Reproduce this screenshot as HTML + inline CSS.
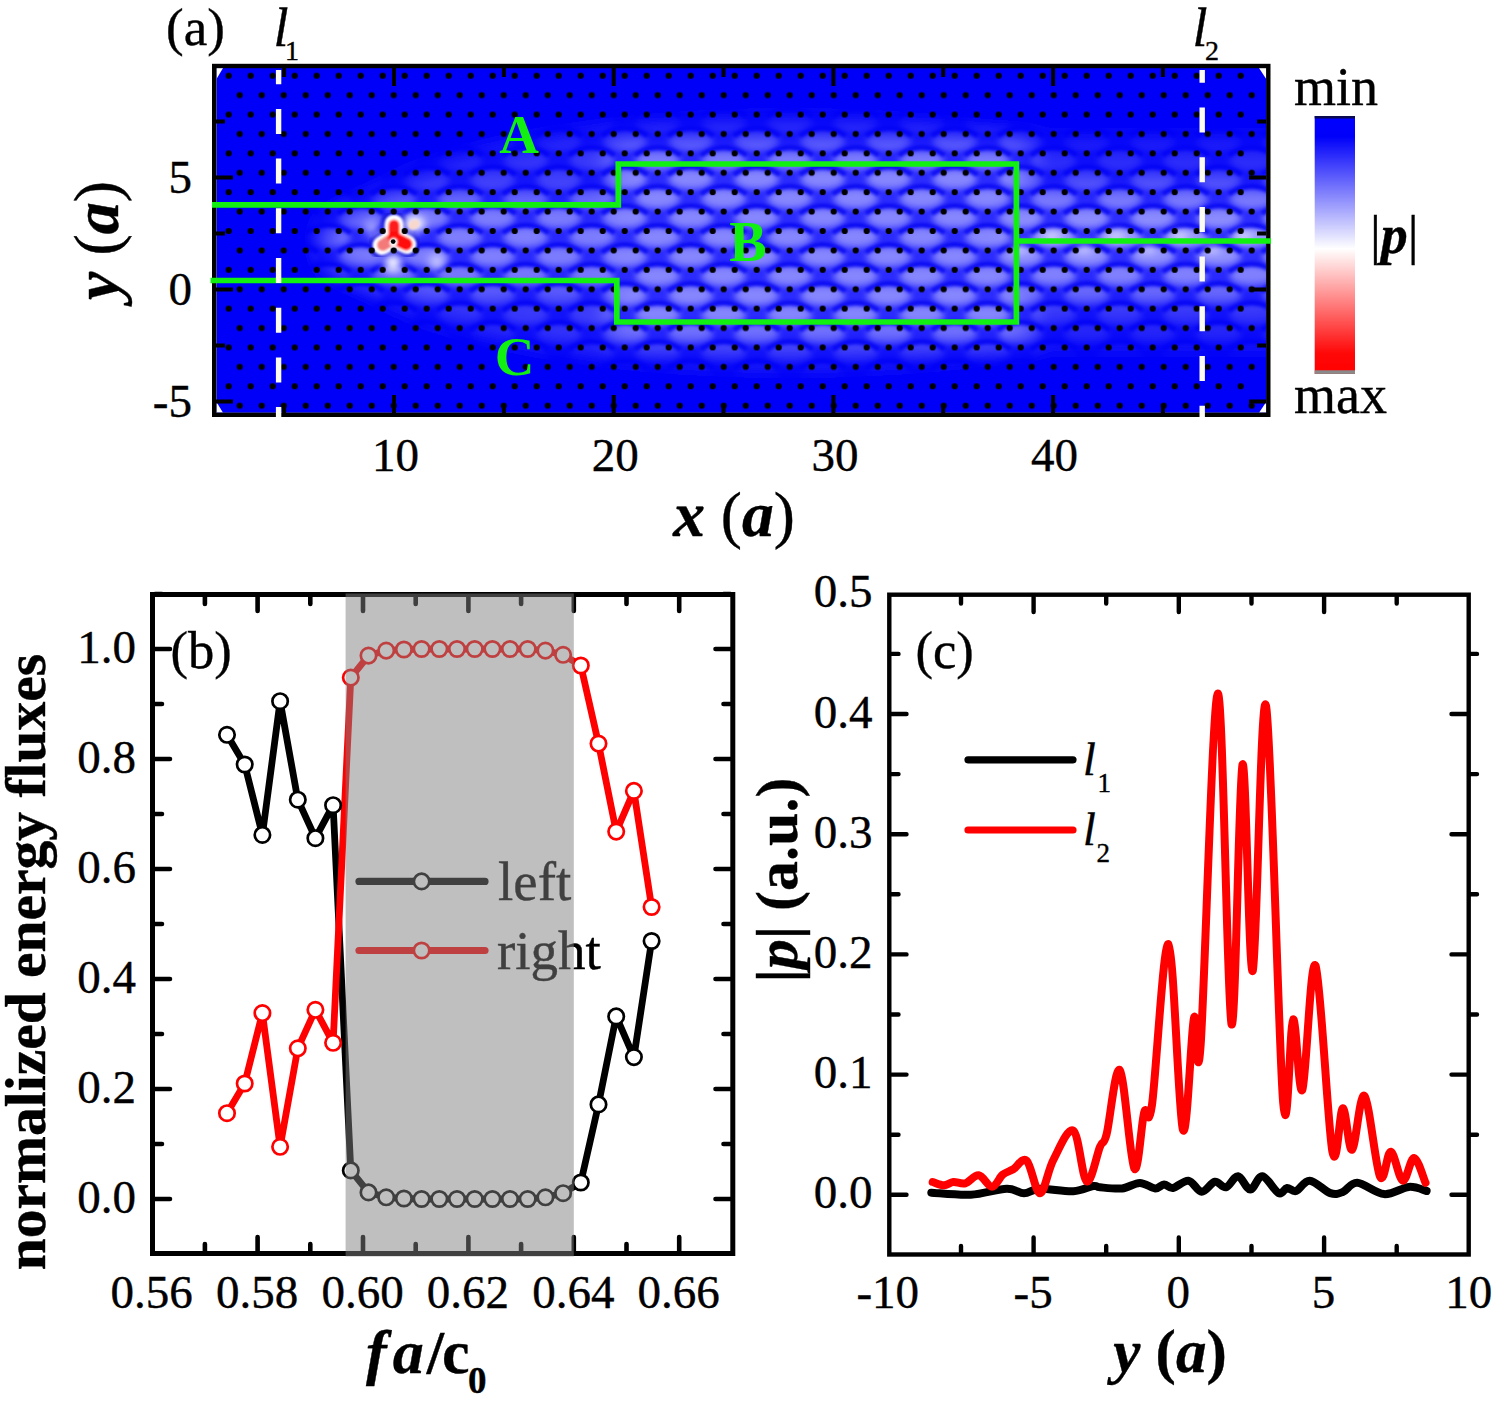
<!DOCTYPE html><html><head><meta charset="utf-8"><style>html,body{margin:0;padding:0;background:#fff;overflow:hidden}svg{display:block}text{font-family:"Liberation Serif",serif}</style></head><body><svg width="1500" height="1402" viewBox="0 0 1500 1402"><defs><clipPath id="fieldclip"><rect x="216.5" y="68.0" width="1049.7" height="344.8"/></clipPath><pattern id="dots" patternUnits="userSpaceOnUse" x="228.7" y="75.7" width="22" height="38.82"><circle cx="0.00" cy="0.00" r="3.1" fill="#000"/><circle cx="22.00" cy="0.00" r="3.1" fill="#000"/><circle cx="11.00" cy="19.41" r="3.1" fill="#000"/><circle cx="0.00" cy="38.82" r="3.1" fill="#000"/><circle cx="22.00" cy="38.82" r="3.1" fill="#000"/></pattern><pattern id="arcs" patternUnits="userSpaceOnUse" x="228.7" y="75.7" width="66" height="38.82"><rect x="0" y="0" width="66" height="38.82" fill="#3434ff"/><ellipse cx="0.0" cy="-13.4" rx="21" ry="9" fill="#a4a4ff"/><ellipse cx="66.0" cy="-13.4" rx="21" ry="9" fill="#a4a4ff"/><ellipse cx="-33.0" cy="6.0" rx="21" ry="9" fill="#a4a4ff"/><ellipse cx="33.0" cy="6.0" rx="21" ry="9" fill="#a4a4ff"/><ellipse cx="99.0" cy="6.0" rx="21" ry="9" fill="#a4a4ff"/><ellipse cx="0.0" cy="25.4" rx="21" ry="9" fill="#a4a4ff"/><ellipse cx="66.0" cy="25.4" rx="21" ry="9" fill="#a4a4ff"/><ellipse cx="-33.0" cy="44.8" rx="21" ry="9" fill="#a4a4ff"/><ellipse cx="33.0" cy="44.8" rx="21" ry="9" fill="#a4a4ff"/><ellipse cx="99.0" cy="44.8" rx="21" ry="9" fill="#a4a4ff"/></pattern><pattern id="arcs2" patternUnits="userSpaceOnUse" x="228.7" y="75.7" width="66" height="38.82"><path d="M-23.0,-17.4Q0.0,-33.4 23.0,-17.4M43.0,-17.4Q66.0,-33.4 89.0,-17.4M-56.0,2.0Q-33.0,-14.0 -10.0,2.0M10.0,2.0Q33.0,-14.0 56.0,2.0M76.0,2.0Q99.0,-14.0 122.0,2.0M-23.0,21.4Q0.0,5.4 23.0,21.4M43.0,21.4Q66.0,5.4 89.0,21.4M-56.0,40.8Q-33.0,24.8 -10.0,40.8M10.0,40.8Q33.0,24.8 56.0,40.8M76.0,40.8Q99.0,24.8 122.0,40.8" fill="none" stroke="#0000f0" stroke-width="5"/></pattern><filter id="blurA" x="0" y="0" width="1" height="1"><feGaussianBlur stdDeviation="1.6"/></filter><filter id="blurP" x="0" y="0" width="1" height="1"><feGaussianBlur stdDeviation="3"/></filter><filter id="blurM" x="-50%" y="-50%" width="200%" height="200%"><feGaussianBlur stdDeviation="12"/></filter><filter id="blur6" x="-50%" y="-50%" width="200%" height="200%"><feGaussianBlur stdDeviation="5"/></filter><filter id="blur1" x="-50%" y="-50%" width="200%" height="200%"><feGaussianBlur stdDeviation="1.3"/></filter><mask id="guidemask" maskUnits="userSpaceOnUse" x="0" y="0" width="1500" height="500"><g filter="url(#blurM)"><rect x="200" y="50" width="1090" height="380" fill="#000"/><ellipse cx="790" cy="243" rx="440" ry="112" fill="#5a5a5a"/><rect x="1000" y="150" width="290" height="185" fill="#4a4a4a"/><ellipse cx="480" cy="243" rx="150" ry="44" fill="#c4c4c4"/><rect x="540" y="198" width="100" height="90" fill="#c0c0c0"/><rect x="612" y="150" width="415" height="185" fill="#d0d0d0"/><rect x="1005" y="190" width="290" height="104" fill="#c8c8c8"/><rect x="1005" y="222" width="290" height="36" fill="#f0f0f0"/></g></mask><linearGradient id="cbar" x1="0" y1="0" x2="0" y2="1"><stop offset="0" stop-color="#0000ff"/><stop offset="0.08" stop-color="#0000fa"/><stop offset="0.515" stop-color="#ffffff"/><stop offset="0.92" stop-color="#ff0808"/><stop offset="1" stop-color="#ff0000"/></linearGradient></defs><rect x="0" y="0" width="1500" height="1402" fill="#fff"/><g clip-path="url(#fieldclip)"><rect x="210" y="60" width="1070" height="370" fill="#0000f8"/><g mask="url(#guidemask)"><g filter="url(#blurP)"><rect x="210" y="60" width="1070" height="370" fill="url(#arcs)"/></g><g filter="url(#blurA)"><rect x="210" y="60" width="1070" height="370" fill="url(#arcs2)" opacity="0.85"/></g></g><g filter="url(#blur6)" opacity="0.75"><ellipse cx="1052.0" cy="236" rx="9" ry="4" fill="#fff"/><ellipse cx="1020.0" cy="248" rx="9" ry="4" fill="#fff"/><ellipse cx="1116.0" cy="236" rx="9" ry="4" fill="#fff"/><ellipse cx="1084.0" cy="248" rx="9" ry="4" fill="#fff"/><ellipse cx="1180.0" cy="236" rx="9" ry="4" fill="#fff"/><ellipse cx="1148.0" cy="248" rx="9" ry="4" fill="#fff"/><ellipse cx="1244.0" cy="236" rx="9" ry="4" fill="#fff"/><ellipse cx="1212.0" cy="248" rx="9" ry="4" fill="#fff"/></g><g filter="url(#blur1)"><path d="M394,238L394,224M394,238L382,245.5M394,238L407,244.5" stroke="#1010d8" stroke-width="27" stroke-linecap="round" fill="none" opacity="0.75"/></g><g filter="url(#blur6)"><circle cx="393" cy="263" r="9" fill="#fff"/><circle cx="437" cy="262" r="8" fill="#c8c8ff"/><ellipse cx="414" cy="224" rx="11" ry="8" fill="#fff"/><circle cx="372" cy="228" r="7" fill="#b0b0ff"/></g><g filter="url(#blur1)"><path d="M394,238L394,224M394,238L382,245.5M394,238L407,244.5" stroke="#fff" stroke-width="19" stroke-linecap="round" fill="none"/><path d="M394,238L394,225" stroke="#ff1a1a" stroke-width="11" stroke-linecap="round" fill="none"/><path d="M394,238L383,245" stroke="#f47a7a" stroke-width="12" stroke-linecap="round" fill="none"/><path d="M394,238L406,244" stroke="#ff0c0c" stroke-width="13" stroke-linecap="round" fill="none"/><ellipse cx="414" cy="224.5" rx="6" ry="4.5" fill="#f8d8cc" transform="rotate(-35 414 224.5)"/></g><g filter="url(#blur1)"><circle cx="393.5" cy="242" r="4.5" fill="#fff"/></g><circle cx="393.2" cy="241.6" r="2.4" fill="#000"/><rect x="222" y="60" width="1035" height="370" fill="url(#dots)"/><path d="M216.5,68 L223,68 L216.5,79 Z" fill="#fff"/><path d="M1266.2,68 L1259,68 L1266.2,79 Z" fill="#fff"/><path d="M216.5,412.8 L223,412.8 L216.5,402 Z" fill="#fff"/><path d="M1266.2,412.8 L1259,412.8 L1266.2,402 Z" fill="#fff"/></g><text x="519" y="152.5" font-family="Liberation Serif" font-size="55" font-weight="bold" fill="#12f012" text-anchor="middle">A</text><text x="748" y="261" font-family="Liberation Serif" font-size="56" font-weight="bold" fill="#12f012" text-anchor="middle">B</text><text x="514.5" y="374.5" font-family="Liberation Serif" font-size="55" font-weight="bold" fill="#12f012" text-anchor="middle">C</text><rect x="214.2" y="66" width="1054.1" height="348.8" fill="none" stroke="#000" stroke-width="4.4"/><path d="M394.0,68v18M394.0,413v-18M613.7,68v18M613.7,413v-18M833.4,68v18M833.4,413v-18M1053.1,68v18M1053.1,413v-18M284.1,68v9M284.1,413v-9M503.9,68v9M503.9,413v-9M723.5,68v9M723.5,413v-9M943.2,68v9M943.2,413v-9M1162.9,68v9M1162.9,413v-9M216,177.6h17M1266,177.6h-17M216,289.6h17M1266,289.6h-17M216,401.6h17M1266,401.6h-17M216,121.6h9M1266,121.6h-9M216,233.6h9M1266,233.6h-9M216,345.6h9M1266,345.6h-9" stroke="#000" stroke-width="4" fill="none"/><polyline points="212,204.8 618.3,204.8 618.3,164 1016.4,164 1016.4,322 616.8,322 616.8,280.5 210.5,280.5" fill="none" stroke="#12f012" stroke-width="5.7"/><polyline points="1016.4,241 1271,241" fill="none" stroke="#12f012" stroke-width="5.7"/><line x1="278.6" y1="70" x2="278.6" y2="417" stroke="#fbfbf2" stroke-width="5.4" stroke-dasharray="25 24.7" stroke-dashoffset="10.8"/><line x1="1202.2" y1="70" x2="1202.2" y2="417" stroke="#fbfbf2" stroke-width="5.4" stroke-dasharray="25 24.7" stroke-dashoffset="12.2"/><text x="395.5" y="470.5" font-family="Liberation Serif" stroke="#000" stroke-width="0.4" font-size="47" text-anchor="middle">10</text><text x="615.2" y="470.5" font-family="Liberation Serif" stroke="#000" stroke-width="0.4" font-size="47" text-anchor="middle">20</text><text x="834.9" y="470.5" font-family="Liberation Serif" stroke="#000" stroke-width="0.4" font-size="47" text-anchor="middle">30</text><text x="1054.6" y="470.5" font-family="Liberation Serif" stroke="#000" stroke-width="0.4" font-size="47" text-anchor="middle">40</text><text x="192" y="193.1" font-family="Liberation Serif" stroke="#000" stroke-width="0.4" font-size="47" text-anchor="end">5</text><text x="192" y="305.1" font-family="Liberation Serif" stroke="#000" stroke-width="0.4" font-size="47" text-anchor="end">0</text><text x="192" y="417.1" font-family="Liberation Serif" stroke="#000" stroke-width="0.4" font-size="47" text-anchor="end">-5</text><text x="166" y="45" font-family="Liberation Serif" stroke="#000" stroke-width="0.4" font-size="53">(a)</text><text x="273.5" y="46" font-family="Liberation Serif" stroke="#000" stroke-width="0.4" font-size="54" font-style="italic">l</text><text x="285" y="59.5" font-family="Liberation Serif" stroke="#000" stroke-width="0.4" font-size="28">1</text><text x="1192.5" y="46" font-family="Liberation Serif" stroke="#000" stroke-width="0.4" font-size="54" font-style="italic">l</text><text x="1205" y="59.5" font-family="Liberation Serif" stroke="#000" stroke-width="0.4" font-size="28">2</text><text x="734" y="536" font-family="Liberation Serif" stroke="#000" stroke-width="0.4" font-size="63.5" text-anchor="middle"><tspan font-weight="bold" font-style="italic">x</tspan> (<tspan font-weight="bold" font-style="italic">a</tspan>)</text><text transform="translate(117.5,240.5) rotate(-90)" font-family="Liberation Serif" stroke="#000" stroke-width="0.4" font-size="64" text-anchor="middle"><tspan font-weight="bold" font-style="italic">y</tspan> (<tspan font-weight="bold" font-style="italic">a</tspan>)</text><rect x="1314.7" y="116" width="40.3" height="257.9" fill="url(#cbar)"/><rect x="1314.7" y="116" width="40.3" height="2.5" fill="#0a0a50"/><rect x="1314.7" y="370.3" width="40.3" height="3.6" fill="#8a8a8a"/><text x="1294" y="104.7" font-family="Liberation Serif" stroke="#000" stroke-width="0.4" font-size="54">min</text><text x="1294" y="413" font-family="Liberation Serif" stroke="#000" stroke-width="0.4" font-size="54">max</text><text x="1370" y="253" font-family="Liberation Serif" stroke="#000" stroke-width="0.4" font-size="54">|<tspan font-weight="bold" font-style="italic">p</tspan>|</text><polyline points="227.0,734.8 244.7,764.5 262.4,834.9 280.1,701.2 297.8,799.7 315.4,838.2 333.1,805.2 350.8,1170.4 368.5,1192.4 386.2,1197.3 403.9,1198.5 421.6,1199.0 439.3,1199.0 457.0,1199.0 474.7,1199.0 492.4,1199.0 510.0,1199.0 527.7,1199.0 545.4,1197.3 563.1,1193.2 580.8,1182.5 598.5,1104.4 616.2,1016.4 633.9,1057.1 651.6,941.0" fill="none" stroke="#000" stroke-width="6.8" stroke-linejoin="round"/><polyline points="227.0,1113.2 244.7,1083.5 262.4,1013.1 280.1,1146.8 297.8,1048.3 315.4,1009.8 333.1,1042.8 350.8,677.6 368.5,655.6 386.2,650.6 403.9,649.5 421.6,649.0 439.3,649.0 457.0,649.0 474.7,649.0 492.4,649.0 510.0,649.0 527.7,649.0 545.4,650.6 563.1,654.8 580.8,665.5 598.5,743.6 616.2,831.6 633.9,790.9 651.6,907.0" fill="none" stroke="#ff0000" stroke-width="6.8" stroke-linejoin="round"/><circle cx="227.0" cy="734.8" r="7.7" fill="#fff" stroke="#000" stroke-width="2.7"/><circle cx="244.7" cy="764.5" r="7.7" fill="#fff" stroke="#000" stroke-width="2.7"/><circle cx="262.4" cy="834.9" r="7.7" fill="#fff" stroke="#000" stroke-width="2.7"/><circle cx="280.1" cy="701.2" r="7.7" fill="#fff" stroke="#000" stroke-width="2.7"/><circle cx="297.8" cy="799.7" r="7.7" fill="#fff" stroke="#000" stroke-width="2.7"/><circle cx="315.4" cy="838.2" r="7.7" fill="#fff" stroke="#000" stroke-width="2.7"/><circle cx="333.1" cy="805.2" r="7.7" fill="#fff" stroke="#000" stroke-width="2.7"/><circle cx="350.8" cy="1170.4" r="7.7" fill="#fff" stroke="#000" stroke-width="2.7"/><circle cx="368.5" cy="1192.4" r="7.7" fill="#fff" stroke="#000" stroke-width="2.7"/><circle cx="386.2" cy="1197.3" r="7.7" fill="#fff" stroke="#000" stroke-width="2.7"/><circle cx="403.9" cy="1198.5" r="7.7" fill="#fff" stroke="#000" stroke-width="2.7"/><circle cx="421.6" cy="1199.0" r="7.7" fill="#fff" stroke="#000" stroke-width="2.7"/><circle cx="439.3" cy="1199.0" r="7.7" fill="#fff" stroke="#000" stroke-width="2.7"/><circle cx="457.0" cy="1199.0" r="7.7" fill="#fff" stroke="#000" stroke-width="2.7"/><circle cx="474.7" cy="1199.0" r="7.7" fill="#fff" stroke="#000" stroke-width="2.7"/><circle cx="492.4" cy="1199.0" r="7.7" fill="#fff" stroke="#000" stroke-width="2.7"/><circle cx="510.0" cy="1199.0" r="7.7" fill="#fff" stroke="#000" stroke-width="2.7"/><circle cx="527.7" cy="1199.0" r="7.7" fill="#fff" stroke="#000" stroke-width="2.7"/><circle cx="545.4" cy="1197.3" r="7.7" fill="#fff" stroke="#000" stroke-width="2.7"/><circle cx="563.1" cy="1193.2" r="7.7" fill="#fff" stroke="#000" stroke-width="2.7"/><circle cx="580.8" cy="1182.5" r="7.7" fill="#fff" stroke="#000" stroke-width="2.7"/><circle cx="598.5" cy="1104.4" r="7.7" fill="#fff" stroke="#000" stroke-width="2.7"/><circle cx="616.2" cy="1016.4" r="7.7" fill="#fff" stroke="#000" stroke-width="2.7"/><circle cx="633.9" cy="1057.1" r="7.7" fill="#fff" stroke="#000" stroke-width="2.7"/><circle cx="651.6" cy="941.0" r="7.7" fill="#fff" stroke="#000" stroke-width="2.7"/><circle cx="227.0" cy="1113.2" r="7.7" fill="#fff" stroke="#ff0000" stroke-width="2.7"/><circle cx="244.7" cy="1083.5" r="7.7" fill="#fff" stroke="#ff0000" stroke-width="2.7"/><circle cx="262.4" cy="1013.1" r="7.7" fill="#fff" stroke="#ff0000" stroke-width="2.7"/><circle cx="280.1" cy="1146.8" r="7.7" fill="#fff" stroke="#ff0000" stroke-width="2.7"/><circle cx="297.8" cy="1048.3" r="7.7" fill="#fff" stroke="#ff0000" stroke-width="2.7"/><circle cx="315.4" cy="1009.8" r="7.7" fill="#fff" stroke="#ff0000" stroke-width="2.7"/><circle cx="333.1" cy="1042.8" r="7.7" fill="#fff" stroke="#ff0000" stroke-width="2.7"/><circle cx="350.8" cy="677.6" r="7.7" fill="#fff" stroke="#ff0000" stroke-width="2.7"/><circle cx="368.5" cy="655.6" r="7.7" fill="#fff" stroke="#ff0000" stroke-width="2.7"/><circle cx="386.2" cy="650.6" r="7.7" fill="#fff" stroke="#ff0000" stroke-width="2.7"/><circle cx="403.9" cy="649.5" r="7.7" fill="#fff" stroke="#ff0000" stroke-width="2.7"/><circle cx="421.6" cy="649.0" r="7.7" fill="#fff" stroke="#ff0000" stroke-width="2.7"/><circle cx="439.3" cy="649.0" r="7.7" fill="#fff" stroke="#ff0000" stroke-width="2.7"/><circle cx="457.0" cy="649.0" r="7.7" fill="#fff" stroke="#ff0000" stroke-width="2.7"/><circle cx="474.7" cy="649.0" r="7.7" fill="#fff" stroke="#ff0000" stroke-width="2.7"/><circle cx="492.4" cy="649.0" r="7.7" fill="#fff" stroke="#ff0000" stroke-width="2.7"/><circle cx="510.0" cy="649.0" r="7.7" fill="#fff" stroke="#ff0000" stroke-width="2.7"/><circle cx="527.7" cy="649.0" r="7.7" fill="#fff" stroke="#ff0000" stroke-width="2.7"/><circle cx="545.4" cy="650.6" r="7.7" fill="#fff" stroke="#ff0000" stroke-width="2.7"/><circle cx="563.1" cy="654.8" r="7.7" fill="#fff" stroke="#ff0000" stroke-width="2.7"/><circle cx="580.8" cy="665.5" r="7.7" fill="#fff" stroke="#ff0000" stroke-width="2.7"/><circle cx="598.5" cy="743.6" r="7.7" fill="#fff" stroke="#ff0000" stroke-width="2.7"/><circle cx="616.2" cy="831.6" r="7.7" fill="#fff" stroke="#ff0000" stroke-width="2.7"/><circle cx="633.9" cy="790.9" r="7.7" fill="#fff" stroke="#ff0000" stroke-width="2.7"/><circle cx="651.6" cy="907.0" r="7.7" fill="#fff" stroke="#ff0000" stroke-width="2.7"/><line x1="359" y1="881.4" x2="485" y2="881.4" stroke="#000" stroke-width="7.2" stroke-linecap="round"/><circle cx="421.6" cy="881.4" r="7.7" fill="#fff" stroke="#000" stroke-width="2.7"/><line x1="359" y1="950.5" x2="485" y2="950.5" stroke="#ff0000" stroke-width="7.2" stroke-linecap="round"/><circle cx="421.6" cy="950.5" r="7.7" fill="#fff" stroke="#ff0000" stroke-width="2.7"/><text x="498" y="899.7" font-family="Liberation Serif" stroke="#000" stroke-width="0.4" font-size="55">left</text><text x="497" y="968.8" font-family="Liberation Serif" stroke="#000" stroke-width="0.4" font-size="55">right</text><rect x="152.5" y="594.5" width="580.3" height="659" fill="none" stroke="#000" stroke-width="5"/><path d="M257.6,597v14M257.6,1251v-14M363.0,597v14M363.0,1251v-14M468.4,597v14M468.4,1251v-14M573.8,597v14M573.8,1251v-14M679.2,597v14M679.2,1251v-14M204.9,597v7M204.9,1251v-7M310.3,597v7M310.3,1251v-7M415.7,597v7M415.7,1251v-7M521.1,597v7M521.1,1251v-7M626.5,597v7M626.5,1251v-7M155,1199.0h15M730.5,1199.0h-15M155,1089.0h15M730.5,1089.0h-15M155,979.0h15M730.5,979.0h-15M155,869.0h15M730.5,869.0h-15M155,759.0h15M730.5,759.0h-15M155,649.0h15M730.5,649.0h-15M155,1144.0h7M730.5,1144.0h-7M155,1034.0h7M730.5,1034.0h-7M155,924.0h7M730.5,924.0h-7M155,814.0h7M730.5,814.0h-7M155,704.0h7M730.5,704.0h-7M155,594.0h7M730.5,594.0h-7" stroke="#000" stroke-width="4.6" stroke-linecap="round" fill="none"/><rect x="345.6" y="593.5" width="228.2" height="663" fill="#808080" fill-opacity="0.5"/><text x="170.5" y="667.5" font-family="Liberation Serif" stroke="#000" stroke-width="0.4" font-size="52.5">(b)</text><text x="151.7" y="1307.5" font-family="Liberation Serif" stroke="#000" stroke-width="0.4" font-size="47" text-anchor="middle">0.56</text><text x="257.1" y="1307.5" font-family="Liberation Serif" stroke="#000" stroke-width="0.4" font-size="47" text-anchor="middle">0.58</text><text x="362.5" y="1307.5" font-family="Liberation Serif" stroke="#000" stroke-width="0.4" font-size="47" text-anchor="middle">0.60</text><text x="467.9" y="1307.5" font-family="Liberation Serif" stroke="#000" stroke-width="0.4" font-size="47" text-anchor="middle">0.62</text><text x="573.3" y="1307.5" font-family="Liberation Serif" stroke="#000" stroke-width="0.4" font-size="47" text-anchor="middle">0.64</text><text x="678.7" y="1307.5" font-family="Liberation Serif" stroke="#000" stroke-width="0.4" font-size="47" text-anchor="middle">0.66</text><text x="136" y="1213.0" font-family="Liberation Serif" stroke="#000" stroke-width="0.4" font-size="47" text-anchor="end">0.0</text><text x="136" y="1103.0" font-family="Liberation Serif" stroke="#000" stroke-width="0.4" font-size="47" text-anchor="end">0.2</text><text x="136" y="993.0" font-family="Liberation Serif" stroke="#000" stroke-width="0.4" font-size="47" text-anchor="end">0.4</text><text x="136" y="883.0" font-family="Liberation Serif" stroke="#000" stroke-width="0.4" font-size="47" text-anchor="end">0.6</text><text x="136" y="773.0" font-family="Liberation Serif" stroke="#000" stroke-width="0.4" font-size="47" text-anchor="end">0.8</text><text x="136" y="663.0" font-family="Liberation Serif" stroke="#000" stroke-width="0.4" font-size="47" text-anchor="end">1.0</text><text transform="translate(45,962) rotate(-90)" font-family="Liberation Serif" stroke="#000" stroke-width="0.4" font-size="57.5" font-weight="bold" text-anchor="middle">normalized energy fluxes</text><text x="366" y="1372.5" font-family="Liberation Serif" stroke="#000" stroke-width="0.4" font-size="62" font-weight="bold"><tspan font-style="italic">f</tspan><tspan font-style="italic" dx="6">a</tspan><tspan dx="3">/</tspan><tspan dx="-2">c</tspan><tspan font-size="37" dy="20" dx="-1.5">0</tspan></text><rect x="889.3" y="594.7" width="579.4" height="659.8" fill="none" stroke="#000" stroke-width="4.4"/><path d="M1033.6,597v15M1033.6,1252.5v-15M1178.8,597v15M1178.8,1252.5v-15M1324.1,597v15M1324.1,1252.5v-15M961.0,597v6.5M961.0,1252.5v-6.5M1106.2,597v6.5M1106.2,1252.5v-6.5M1251.5,597v6.5M1251.5,1252.5v-6.5M1396.7,597v6.5M1396.7,1252.5v-6.5M891.5,1194.8h15M1466.5,1194.8h-15M891.5,1074.6h15M1466.5,1074.6h-15M891.5,954.4h15M1466.5,954.4h-15M891.5,834.2h15M1466.5,834.2h-15M891.5,714.0h15M1466.5,714.0h-15M891.5,1134.7h7M1470,1134.7h7M891.5,1014.5h7M1470,1014.5h7M891.5,894.3h7M1470,894.3h7M891.5,774.1h7M1470,774.1h7M891.5,653.9h7M1470,653.9h7" stroke="#000" stroke-width="4.4" stroke-linecap="round" fill="none"/><text x="887.8" y="1307.5" font-family="Liberation Serif" stroke="#000" stroke-width="0.4" font-size="47" text-anchor="middle">-10</text><text x="1033.1" y="1307.5" font-family="Liberation Serif" stroke="#000" stroke-width="0.4" font-size="47" text-anchor="middle">-5</text><text x="1178.3" y="1307.5" font-family="Liberation Serif" stroke="#000" stroke-width="0.4" font-size="47" text-anchor="middle">0</text><text x="1323.6" y="1307.5" font-family="Liberation Serif" stroke="#000" stroke-width="0.4" font-size="47" text-anchor="middle">5</text><text x="1468.8" y="1307.5" font-family="Liberation Serif" stroke="#000" stroke-width="0.4" font-size="47" text-anchor="middle">10</text><text x="872.5" y="1208.3" font-family="Liberation Serif" stroke="#000" stroke-width="0.4" font-size="47" text-anchor="end">0.0</text><text x="872.5" y="1088.1" font-family="Liberation Serif" stroke="#000" stroke-width="0.4" font-size="47" text-anchor="end">0.1</text><text x="872.5" y="967.9" font-family="Liberation Serif" stroke="#000" stroke-width="0.4" font-size="47" text-anchor="end">0.2</text><text x="872.5" y="847.7" font-family="Liberation Serif" stroke="#000" stroke-width="0.4" font-size="47" text-anchor="end">0.3</text><text x="872.5" y="727.5" font-family="Liberation Serif" stroke="#000" stroke-width="0.4" font-size="47" text-anchor="end">0.4</text><text x="872.5" y="607.3" font-family="Liberation Serif" stroke="#000" stroke-width="0.4" font-size="47" text-anchor="end">0.5</text><text x="915.5" y="667.5" font-family="Liberation Serif" stroke="#000" stroke-width="0.4" font-size="52.5">(c)</text><text transform="translate(797,880) rotate(-90)" font-family="Liberation Serif" stroke="#000" stroke-width="0.4" font-size="60" font-weight="bold" text-anchor="middle">|<tspan font-style="italic">p</tspan>| (a.u.)</text><text x="1170" y="1372" font-family="Liberation Serif" stroke="#000" stroke-width="0.4" font-size="61" font-weight="bold" text-anchor="middle"><tspan font-style="italic">y</tspan> (<tspan font-style="italic">a</tspan>)</text><line x1="968" y1="759.8" x2="1073" y2="759.8" stroke="#000" stroke-width="7.2" stroke-linecap="round"/><line x1="968" y1="830" x2="1073" y2="830" stroke="#ff0000" stroke-width="7.2" stroke-linecap="round"/><text x="1083" y="775" font-family="Liberation Serif" stroke="#000" stroke-width="0.4" font-size="46" font-style="italic">l</text><text x="1097.5" y="791.5" font-family="Liberation Serif" stroke="#000" stroke-width="0.4" font-size="27">1</text><text x="1083" y="845" font-family="Liberation Serif" stroke="#000" stroke-width="0.4" font-size="46" font-style="italic">l</text><text x="1096.5" y="861.5" font-family="Liberation Serif" stroke="#000" stroke-width="0.4" font-size="27">2</text><path d="M931.3,1192.7C937.9,1193.0 958.1,1195.4 970.7,1194.7C983.3,1194.0 997.8,1188.9 1006.7,1188.7C1015.6,1188.5 1018.5,1193.3 1024.0,1193.3C1029.5,1193.3 1031.8,1189.0 1040.0,1188.7C1048.2,1188.4 1064.4,1191.8 1073.3,1191.3C1082.2,1190.8 1088.8,1186.7 1093.3,1186.0C1097.8,1185.3 1095.2,1186.9 1100.0,1187.3C1104.8,1187.7 1115.5,1189.1 1122.1,1188.4C1128.7,1187.7 1134.3,1182.9 1139.8,1182.9C1145.3,1182.9 1151.2,1188.1 1155.2,1188.4C1159.2,1188.7 1161.0,1184.6 1164.0,1184.5C1167.0,1184.4 1168.9,1188.6 1173.0,1188.0C1177.1,1187.4 1183.6,1180.1 1188.4,1180.7C1193.2,1181.3 1197.3,1191.5 1201.7,1191.7C1206.1,1191.9 1210.9,1182.5 1214.9,1181.8C1219.0,1181.1 1222.1,1188.2 1226.0,1187.3C1229.9,1186.4 1234.0,1175.8 1238.1,1176.2C1242.1,1176.6 1246.2,1189.5 1250.3,1189.5C1254.3,1189.5 1257.7,1175.6 1262.4,1176.2C1267.1,1176.8 1274.5,1191.1 1278.6,1193.1C1282.7,1195.1 1284.0,1188.3 1286.9,1188.0C1289.8,1187.7 1292.4,1192.2 1296.2,1191.0C1300.0,1189.8 1304.0,1180.4 1309.7,1180.7C1315.4,1181.0 1324.8,1191.2 1330.3,1193.1C1335.8,1195.0 1338.3,1193.7 1342.8,1192.0C1347.3,1190.3 1350.3,1182.5 1357.2,1182.8C1364.1,1183.1 1375.5,1193.4 1384.1,1194.1C1392.7,1194.8 1401.9,1187.4 1409.0,1186.9C1416.1,1186.4 1423.7,1190.3 1426.6,1191.0" fill="none" stroke="#000" stroke-width="8" stroke-linejoin="round" stroke-linecap="round"/><path d="M932.7,1182.0C934.6,1182.5 940.6,1185.3 944.0,1185.3C947.4,1185.3 949.8,1182.3 953.3,1182.0C956.8,1181.7 961.1,1184.4 965.3,1183.3C969.5,1182.2 974.2,1174.7 978.7,1175.3C983.2,1175.9 988.0,1186.8 992.0,1186.7C996.0,1186.6 999.2,1177.6 1002.7,1174.7C1006.2,1171.8 1009.3,1171.6 1013.3,1169.3C1017.3,1167.0 1022.2,1156.7 1026.7,1160.7C1031.2,1164.7 1035.6,1193.4 1040.0,1193.3C1044.4,1193.2 1047.8,1170.4 1053.3,1160.0C1058.8,1149.6 1067.7,1127.2 1073.3,1130.7C1078.9,1134.2 1082.2,1178.6 1086.7,1181.3C1091.2,1184.0 1096.7,1154.5 1100.0,1146.7C1103.3,1138.9 1103.3,1147.0 1106.6,1134.3C1109.9,1121.5 1115.3,1064.5 1119.9,1070.2C1124.5,1075.9 1130.2,1161.5 1134.3,1168.5C1138.3,1175.5 1141.3,1122.7 1144.2,1112.2C1147.1,1101.7 1147.9,1133.5 1151.9,1105.5C1156.0,1077.5 1163.3,940.2 1168.5,944.2C1173.7,948.2 1178.7,1117.5 1182.9,1129.8C1187.1,1142.1 1191.0,1032.2 1193.9,1018.2C1196.9,1004.2 1196.6,1099.6 1200.6,1045.5C1204.6,991.4 1212.6,697.1 1217.8,693.6C1223.0,690.1 1227.4,1012.4 1231.5,1024.2C1235.6,1036.0 1239.0,773.4 1242.5,764.5C1246.0,755.6 1248.9,980.6 1252.8,970.8C1256.7,961.0 1260.9,683.6 1266.0,705.6C1271.1,727.6 1278.7,1050.7 1283.2,1103.0C1287.7,1155.3 1289.9,1021.5 1293.1,1019.3C1296.3,1017.1 1298.7,1098.7 1302.4,1089.7C1306.1,1080.7 1310.5,955.2 1315.5,965.5C1320.5,975.8 1327.9,1127.9 1332.4,1151.7C1337.0,1175.5 1339.5,1108.6 1342.8,1108.3C1346.1,1108.0 1348.5,1151.8 1352.1,1149.7C1355.7,1147.6 1359.8,1091.4 1364.5,1095.9C1369.2,1100.4 1375.6,1167.3 1380.0,1176.6C1384.4,1185.9 1387.0,1151.0 1390.8,1151.7C1394.6,1152.4 1398.9,1179.7 1402.8,1180.7C1406.7,1181.8 1410.3,1157.7 1414.1,1158.0C1417.9,1158.3 1423.6,1178.7 1425.5,1182.8" fill="none" stroke="#ff0000" stroke-width="8" stroke-linejoin="round" stroke-linecap="round"/></svg></body></html>
